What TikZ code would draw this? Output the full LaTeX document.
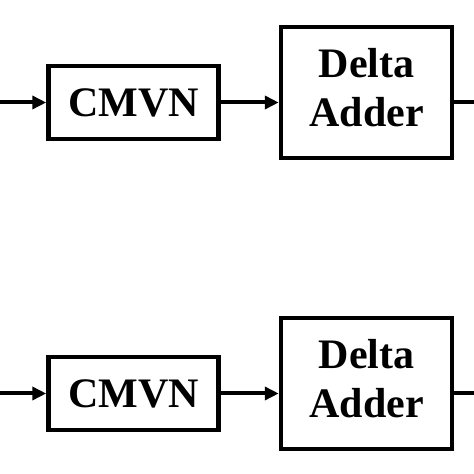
\documentclass[tikz,border=0pt]{standalone}
\usepackage{fontspec}
\setmainfont{Liberation Serif}
\usetikzlibrary{arrows.meta}
\begin{document}
\begin{tikzpicture}[x=1pt,y=1pt,
	blockbox/.style={draw=black,line width=4.5pt,inner sep=0pt,align=center,
		font=\fontsize{42}{49}\selectfont\bfseries},
	flow/.style={line width=4pt,-{Triangle[length=14pt,width=13pt]}}]
	\useasboundingbox (0,0) rectangle (474,474);
	% upper row
	\node [blockbox,minimum width=170pt,minimum height=73pt] (cmvnA) at (133.5,371.5) {CMVN};
	\node [blockbox,minimum width=171pt,minimum height=131pt,text depth=10pt] (deltaA) at (366.5,381.5) {Delta\\Adder};
	\coordinate (inA) at (0,371.5);
	\coordinate (outA) at (474,371.5);
	\draw [flow] (inA) -- (cmvnA.west);
	\draw [flow] (cmvnA.east) -- (cmvnA.east -| deltaA.west);
	\draw [line width=4pt] (deltaA.east |- outA) -- (outA);
	% lower row
	\node [blockbox,minimum width=170pt,minimum height=73pt] (cmvnB) at (133.5,80.5) {CMVN};
	\node [blockbox,minimum width=171pt,minimum height=131pt,text depth=10pt] (deltaB) at (366.5,90.5) {Delta\\Adder};
	\coordinate (inB) at (0,80.5);
	\coordinate (outB) at (474,80.5);
	\draw [flow] (inB) -- (cmvnB.west);
	\draw [flow] (cmvnB.east) -- (cmvnB.east -| deltaB.west);
	\draw [line width=4pt] (deltaB.east |- outB) -- (outB);
\end{tikzpicture}
\end{document}
